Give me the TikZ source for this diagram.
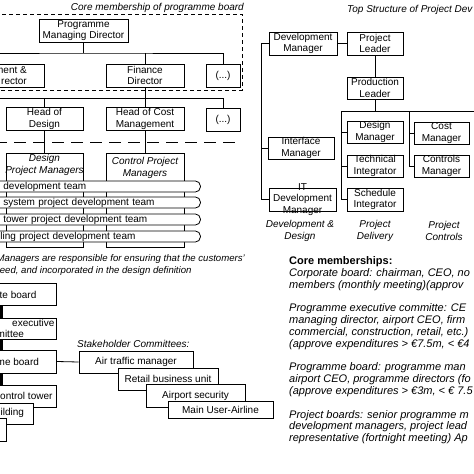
\documentclass[tikz,border=0pt]{standalone}
\usepackage{fontspec}
\setmainfont{Liberation Sans}
\begin{document}
\begin{tikzpicture}[x=1pt, y=-1pt,
	box/.style={draw, rectangle, fill=white, line width=0.8pt, inner sep=0pt, align=center, font=\fontsize{10}{11.5}\selectfont},
	teambar/.style={draw, rectangle, fill=white, rounded corners=5pt, line width=0.8pt, anchor=west, minimum height=11, inner ysep=0pt, inner xsep=11pt, text width=186pt, align=left, font=\fontsize{10}{11}\selectfont},
	note/.style={inner sep=0pt, align=center, font=\fontsize{10}{12}\selectfont\itshape},
	txt/.style={inner sep=0pt, align=left, font=\fontsize{10}{11.5}\selectfont},
	conn/.style={line width=0.8pt},
	stub/.style={line width=3pt}]
	\useasboundingbox (0,0) rectangle (474,474);
	\clip (0,0) rectangle (474,474);

	\node[note, anchor=east] (cmtitle) at (244,8) {Core membership of programme board};
	\draw[conn, dash pattern=on 4pt off 3pt] (-5,14) -- (242,14) -- (242,90) -- (-5,90);
	\node[box, minimum width=89, minimum height=23] (PMD) at (83.5,30.5) {Programme\\Managing Director};
	\node[box, minimum width=100, minimum height=23, anchor=east] (DDD) at (45,75.5) {};
	\node[txt, anchor=east, align=right] (DDDt) at (27,75.5) {ment \&\\rector};
	\node[box, minimum width=78, minimum height=23] (FD) at (145,75.5) {Finance\\Director};
	\node[box, minimum width=34, minimum height=23] (DOT1) at (223,75.5) {(...)};
	\coordinate (bus1) at (83.5,53);
	\draw[conn] (PMD.south) -- (bus1);
	\draw[conn] (DDD.north) |- (bus1) -| (DOT1.north);
	\draw[conn] (FD.north) -- (FD.north |- bus1);

	\node[box, minimum width=77, minimum height=23] (HD) at (44.5,119) {Head of\\Design};
	\node[box, minimum width=78, minimum height=23] (HCM) at (145,119) {Head of Cost\\Management};
	\node[box, minimum width=34, minimum height=23] (DOT2) at (223,119.5) {(...)};
	\coordinate (bus2) at (-5,98);
	\draw[conn] (bus2) -| (HD.north);
	\draw[conn] (bus2) -| (DOT2.north);
	\draw[conn] (FD.south) -- (HCM.north);
	\draw[conn, dash pattern=on 12pt off 7pt] (-5,142) -- (240,142);

	\node[box, minimum width=77, minimum height=94, label={[note, anchor=north, yshift=-1.5]north:{Design\\Project Managers}}] (DPM) at (44.5,200) {};
	\node[box, minimum width=78, minimum height=94, label={[note, anchor=north, yshift=-4]north:{Control Project\\Managers}}] (CPM) at (145,200) {};
	\draw[conn] (HD.south) -- (DPM.north);
	\draw[conn] (HCM.south) -- (CPM.north);
	\node[teambar] (T1) at (-8,186.5) {development team};
	\node[teambar] (T2) at (-8,202.5) {system project development team};
	\node[teambar] (T3) at (-8,219.5) {tower project development team};
	\node[teambar, inner xsep=8pt, text width=192pt] (T4) at (-8,236.5) {ling project development team};
	\node[note, anchor=north west, align=left, font=\fontsize{9.6}{12}\selectfont\itshape] (resp) at (-3.5,254) {Managers are responsible for ensuring that the customers'\\reed, and incorporated in the design definition};

	\coordinate (stubx) at (1.2,0);
	\node[box, minimum width=80, minimum height=21.5, anchor=east] (CB) at (57,294.5) {};
	\node[txt, anchor=west] (CBt) at (-0.5,294.5) {te board};
	\node[box, minimum width=94, minimum height=21, anchor=east] (PEC) at (57,328.5) {};
	\node[txt, anchor=west] (PECa) at (12,322.5) {executive};
	\node[txt, anchor=west] (PECb) at (-3.5,334) {mittee};
	\node[box, minimum width=94, minimum height=23, anchor=east] (PB) at (57,361.5) {};
	\node[txt, anchor=west] (PBt) at (-3.5,361.5) {me board};
	\node[box, minimum width=94, minimum height=22, anchor=east] (ACT) at (57,396) {};
	\node[txt, anchor=west] (ACTt) at (0,396) {ontrol tower};
	\node[box, minimum width=70, minimum height=21, anchor=east] (BLD) at (34,413.5) {};
	\node[txt, anchor=west] (BLDt) at (0.5,412.5) {ilding};
	\node[box, minimum width=60, minimum height=23, anchor=east] (B3) at (7,429.5) {};
	\draw[stub] (CB.south -| stubx) -- (PEC.north -| stubx);
	\draw[stub] (PEC.south -| stubx) -- (PB.north -| stubx);
	\draw[stub] (PB.south -| stubx) -- (ACT.north -| stubx);

	\node[note, anchor=west] (stake) at (77,344) {Stakeholder Committees:};
	\node[box, minimum width=114, minimum height=22] (ATM) at (136,362) {Air traffic manager};
	\node[box, minimum width=100, minimum height=22] (RBU) at (168,379) {Retail business unit};
	\node[box, minimum width=99, minimum height=23] (AS) at (195.5,395.5) {Airport security};
	\node[box, minimum width=105, minimum height=17] (MUA) at (220.5,409.5) {Main User-Airline};
	\draw[conn] (PB.east) -- (ATM.west);

	\node[note, anchor=west] (tstitle) at (347,10) {Top Structure of Project Dev};
	\node[box, minimum width=68, minimum height=23] (DM) at (303,43.5) {Development\\Manager};
	\node[box, minimum width=56, minimum height=23] (PL) at (375,43.5) {Project\\Leader};
	\node[box, minimum width=56, minimum height=22] (PdL) at (375,88) {Production\\Leader};
	\node[box, minimum width=56, minimum height=22] (DesM) at (375,132) {Design\\Manager};
	\node[box, minimum width=56, minimum height=22] (TI) at (375,166) {Technical\\Integrator};
	\node[box, minimum width=56, minimum height=23] (SI) at (375,199.5) {Schedule\\Integrator};
	\node[box, minimum width=55, minimum height=22] (CM) at (441.5,133) {Cost\\Manager};
	\node[box, minimum width=55, minimum height=22] (CtM) at (441.5,166) {Controls\\Manager};
	\node[box, minimum width=66, minimum height=22] (IM) at (301,148) {Interface\\Manager};
	\node[box, minimum width=67, minimum height=23, label={[box, draw=none, fill=none]center:{IT\\Development\\Manager}}] (ITDM) at (302.5,199.5) {};
	\draw[conn] (DM.east) -- (PL.west);
	\draw[conn] (PL.south) -- (PdL.north);
	\coordinate (dmw) at (261,43.5);
	\draw[conn] (DM.west) -- (dmw) |- (ITDM.west);
	\draw[conn] (dmw) |- (IM.west);
	\coordinate (pdw) at (341,111.5);
	\coordinate (pcw) at (409,111.5);
	\coordinate (pde) at (480,111.5);
	\draw[conn] (PdL.south) -- (PdL.south |- pdw);
	\draw[conn] (pdw) -- (pde);
	\draw[conn] (pdw) |- (DesM.west);
	\draw[conn] (pdw) |- (TI.west);
	\draw[conn] (pdw) |- (SI.west);
	\draw[conn] (pcw) |- (CM.west);
	\draw[conn] (pcw) |- (CtM.west);
	\node[note] (devd) at (300,231) {Development \&\\Design};
	\node[note] (pdel) at (375,231) {Project\\Delivery};
	\node[note] (pcon) at (444,231) {Project\\Controls};

	\node[txt, anchor=north west, font=\fontsize{11}{11.8}\selectfont\itshape] (core) at (289,256.5) {{\upshape\bfseries Core memberships:}\\Corporate board: chairman, CEO, no\\members (monthly meeting)(approv\\[11.8pt]Programme executive committe: CE\\managing director, airport CEO, firm\\commercial, construction, retail, etc.)\\(approve expenditures > €7.5m, < €4\\[11.8pt]Programme board: programme man\\airport CEO, programme directors (fo\\(approve expenditures > €3m, < € 7.5\\[11.8pt]Project boards: senior programme m\\development managers, project lead\\representative (fortnight meeting) Ap};
\end{tikzpicture}
\end{document}
